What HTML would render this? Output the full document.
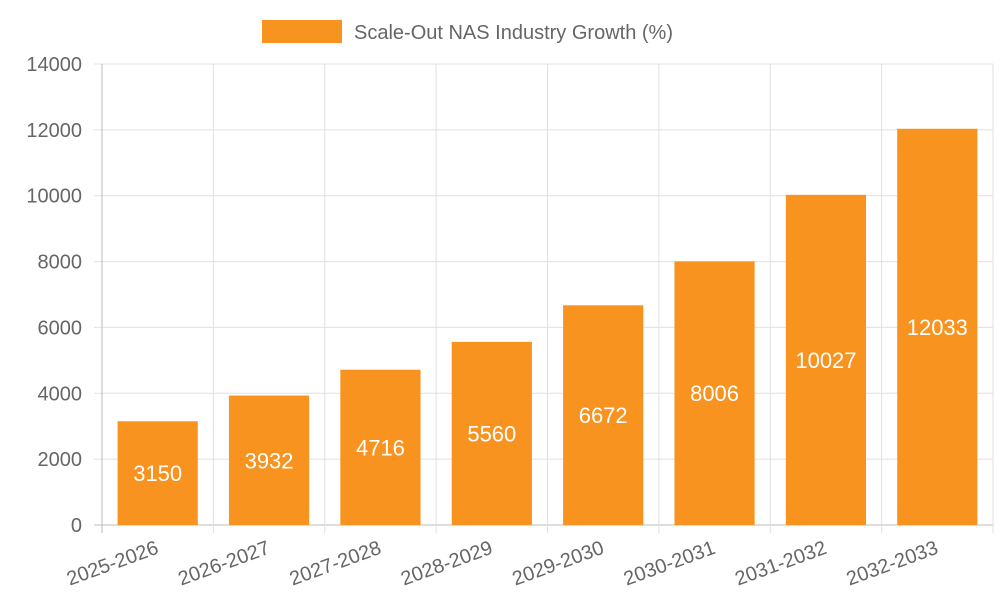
<!DOCTYPE html>
<html><head><meta charset="utf-8"><style>
html,body{margin:0;padding:0;background:#fff;}
svg{display:block;font-family:"Liberation Sans",sans-serif;}
</style></head><body>
<svg id="chart" width="1000" height="600" viewBox="0 0 1000 600">
  <g>
    <rect x="262" y="20" width="80" height="23" fill="#f7931e"/>
    <text x="354" y="39" font-size="20" fill="#666">Scale-Out NAS Industry Growth (%)</text>
  </g>
  <g id="grid"></g>
  <g id="bars"></g>
  <g id="axes"></g>
</svg>
<script>
const categories = ["2025-2026","2026-2027","2027-2028","2028-2029","2029-2030","2030-2031","2031-2032","2032-2033"];
const values = [3150,3932,4716,5560,6672,8006,10027,12033];
const yTicks = [0,2000,4000,6000,8000,10000,12000,14000];
const NS="http://www.w3.org/2000/svg";
const L=102,R=993,T=64,B=525,yMax=14000;
const bw=(R-L)/categories.length;
const y=v=>B-(v/yMax)*(B-T);
const xc=i=>L+bw*(i+0.5);
function mk(tag,attrs,parent,text){const e=document.createElementNS(NS,tag);for(const k in attrs)e.setAttribute(k,attrs[k]);if(text!==undefined)e.textContent=text;parent.appendChild(e);return e;}
const grid=document.getElementById('grid'),bars=document.getElementById('bars'),axes=document.getElementById('axes');
yTicks.forEach(t=>{
  const g=mk('line',{x1:94,x2:R,y1:y(t),y2:y(t),stroke:t===0?'#bbb':'#e0e0e0','stroke-width':1},grid);
  
  
  const lb=mk('text',{x:82,y:y(t)+7,'text-anchor':'end','font-size':20,fill:'#666'},axes,String(t));
  
  
});
for(let i=0;i<=categories.length;i++){
  const x=L+bw*i;
  const g=mk('line',{x1:x,x2:x,y1:T,y2:B+8,stroke:i===0?'#bbb':'#e0e0e0','stroke-width':1},grid);
  
  
}
categories.forEach((c,i)=>{
  const w=bw*0.72,x=xc(i)-w/2,top=y(values[i]);
  const r=mk('rect',{x:x,y:top,width:w,height:B-top,fill:'#f7931e'},bars);
  
  
  const v=mk('text',{x:xc(i),y:(top+B)/2+8,'text-anchor':'middle','font-size':22,fill:'#fff'},bars,String(values[i]));
  
  
  const xl=mk('text',{x:xc(i)+2,y:B+28,'text-anchor':'end','font-size':20,fill:'#666',transform:'rotate(-20 '+(xc(i)+2)+' '+(B+28)+')'},axes,c);
  
  
});
</script>
</body></html>
